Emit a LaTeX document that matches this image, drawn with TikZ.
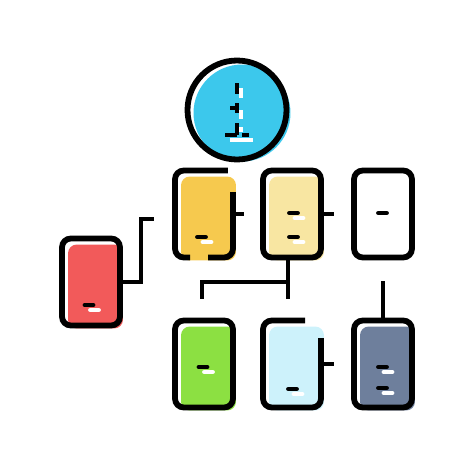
\documentclass[tikz,border=0pt]{standalone}
\usetikzlibrary{backgrounds}
\definecolor{numcyan}{HTML}{3CC8EC}
\definecolor{boxred}{HTML}{F25A5A}
\definecolor{boxgold}{HTML}{F6C94E}
\definecolor{boxcream}{HTML}{F8E6A2}
\definecolor{boxgreen}{HTML}{8CE042}
\definecolor{boxice}{HTML}{CDF2FB}
\definecolor{boxslate}{HTML}{6E7F9C}
\begin{document}
\begin{tikzpicture}[x=0.02cm, y=-0.02cm, line width=2.8pt]
\tikzstyle{box}=[shape=rectangle, rounded corners=5pt, inner sep=0pt, outer sep=0pt, minimum width=1.16cm, minimum height=1.74cm, line width=3.3pt]
\tikzstyle{rim}=[line width=3.3pt, rounded corners=5pt]
\tikzstyle{slot}=[line cap=round]
\tikzstyle{hilite}=[white, line cap=round]
\useasboundingbox (0,0) rectangle (474,474);
% number badge
\node [draw, circle, outer sep=0pt, minimum size=1.98cm, line width=3.3pt] (num) at (237,110) {};
% top row
\node [box] (gold) at (204,214) {};
\node [box, draw] (cream) at (292,214) {};
\node [box, draw] (blank) at (383,214) {};
% left one
\node [box, draw] (red) at (91,282) {};
% bottom row
\node [box, draw] (green) at (204,364) {};
\node [box] (ice) at (292,364) {};
\node [box, draw] (slate) at (383,364) {};
% offset fills
\begin{scope}[on background layer]
\fill [numcyan] ([shift={(5,3)}]num.center) circle [radius=0.97cm];
\fill [boxgold, rounded corners=5pt] ([shift={(6,6)}]gold.north west) rectangle ([shift={(3,3)}]gold.south east);
\fill [boxcream, rounded corners=5pt] ([shift={(6,6)}]cream.north west) rectangle ([shift={(3,3)}]cream.south east);
\fill [boxred, rounded corners=5pt] ([shift={(6,6)}]red.north west) rectangle ([shift={(3,3)}]red.south east);
\fill [boxgreen, rounded corners=5pt] ([shift={(6,6)}]green.north west) rectangle ([shift={(3,3)}]green.south east);
\fill [boxice, rounded corners=5pt] ([shift={(6,6)}]ice.north west) rectangle ([shift={(3,3)}]ice.south east);
\fill [boxslate, rounded corners=5pt] ([shift={(6,6)}]slate.north west) rectangle ([shift={(3,3)}]slate.south east);
\end{scope}
% open outlines
\draw [rim] (gold.north east) ++(-5,0) -| (gold.south west) -- ++(15,0);
\draw [rim] (gold.south west) ++(33,0) -| (gold.east) -- ++(0,-22);
\draw [rim] (ice.north west) ++(42,0) -| (ice.south west) -| (ice.east) -- ++(0,-26);
% the one
\draw [line width=2.8pt] (237,83) -- (237,94) (237,103) -- (237,113) (237,123) -- (237,135)
  (230,108) -- (237,108) (225,135) -- (237,135) (242,135) -- (249,135);
\draw [white, line width=2.6pt] (241,88) -- (241,98) (241,110) -- (241,119) (241,127) -- (241,132)
  (230,140) -- (253,140);
% links
\coordinate (redtip) at (154,219);
\coordinate (tee) at (288,282);
\coordinate (gtip) at (202,299);
\coordinate (itip) at (288,299);
\coordinate (btip) at (383,281);
\draw (red.east) -- ++(21,0) |- (redtip);
\draw (gold.east) -- ++(11,0);
\draw (cream.east) -- ++(13,0);
\draw (ice.east) -- ++(13,0);
\draw (cream.south -| tee) -- (itip);
\draw (tee) -| (gtip);
\draw (btip) -- (slate.north);
% dashes
\draw [hilite] (203,242) -- (211,242);
\draw [slot] (197.5,237) -- (205.5,237);
\draw [hilite] (295,218) -- (303,218) (295,242) -- (303,242);
\draw [slot] (289.5,213) -- (297.5,213) (289.5,237) -- (297.5,237);
\draw [slot] (378.5,213) -- (386.5,213);
\draw [hilite] (90.5,310) -- (98.5,310);
\draw [slot] (85,305) -- (93,305);
\draw [hilite] (204.5,372) -- (212.5,372);
\draw [slot] (199,367) -- (207,367);
\draw [hilite] (294,394) -- (302,394);
\draw [slot] (288.5,389) -- (296.5,389);
\draw [hilite] (384,372) -- (392,372) (384,393) -- (392,393);
\draw [slot] (378.5,367) -- (386.5,367) (378.5,388) -- (386.5,388);
\end{tikzpicture}
\end{document}
